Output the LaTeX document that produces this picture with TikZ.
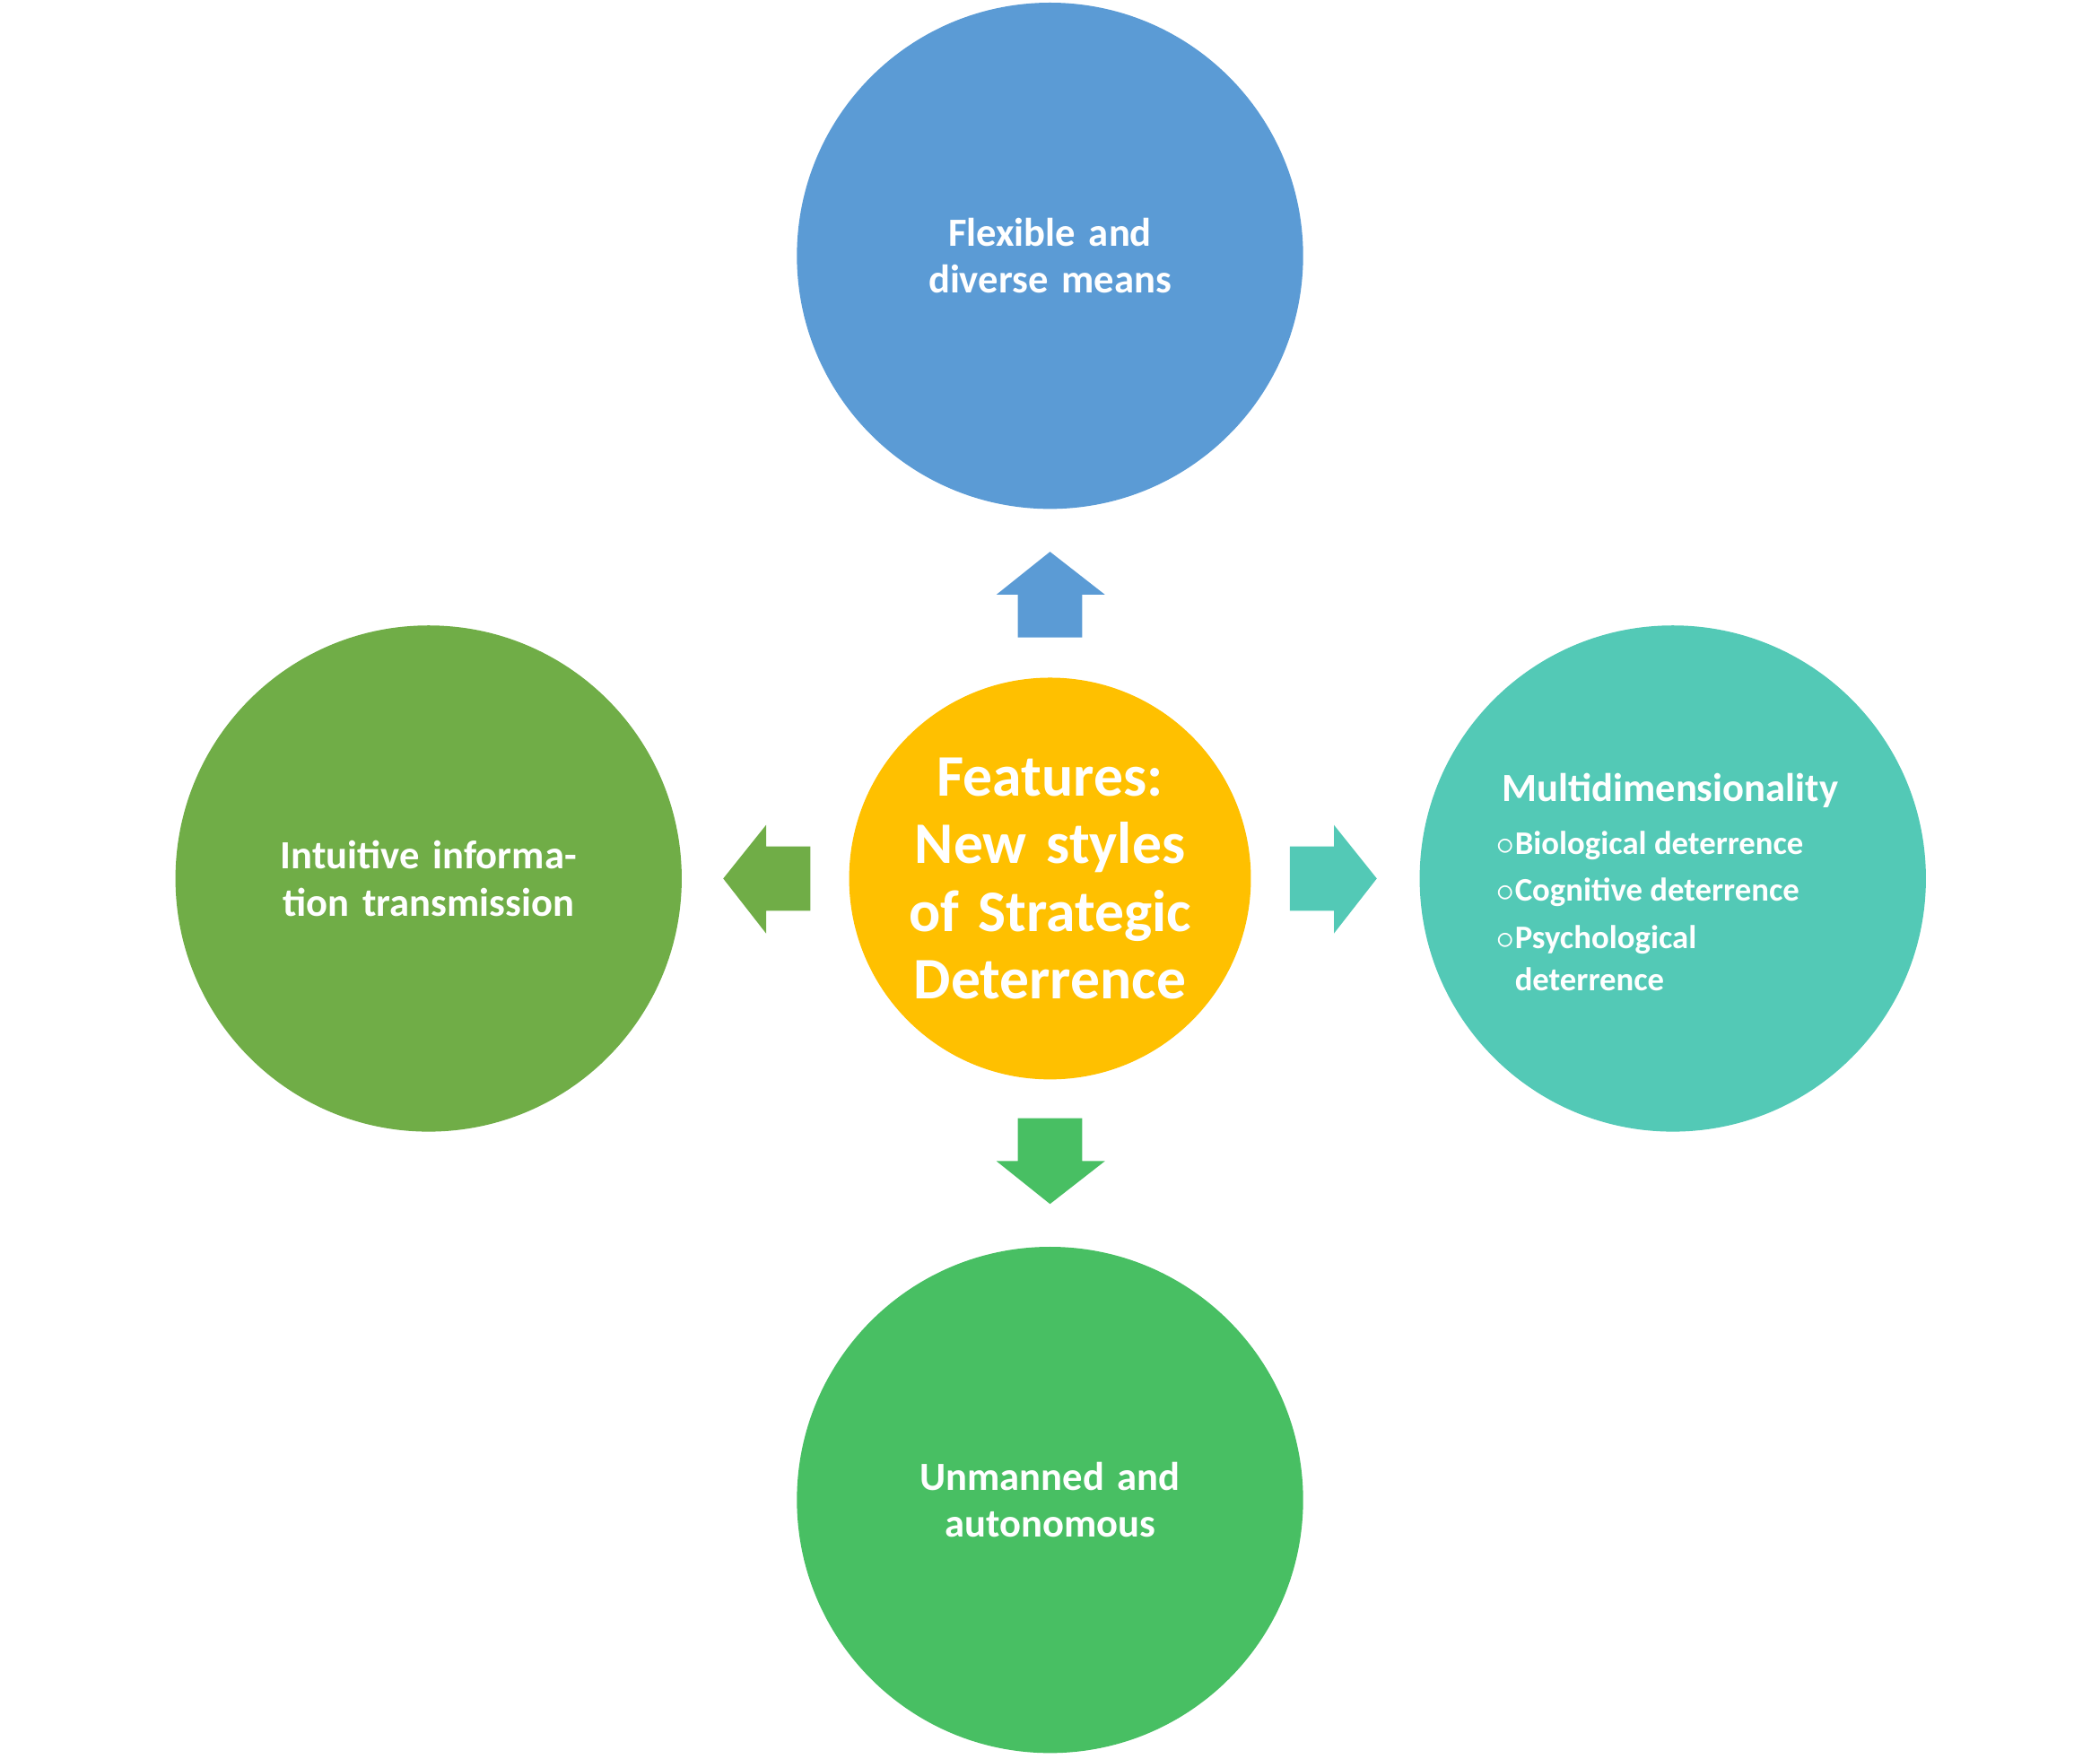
\documentclass[tikz,border=0pt]{standalone}
\usepackage{fontspec}
\setmainfont{Carlito}
\definecolor{cblue}{HTML}{5B9BD5}
\definecolor{cgreen}{HTML}{70AD47}
\definecolor{cteal}{HTML}{53C9B6}
\definecolor{cgreen2}{HTML}{48BF63}
\definecolor{cgold}{HTML}{FFC000}
\begin{document}
\begin{tikzpicture}[x=1cm,y=-1cm,
  circ/.style={circle,minimum size=3.78cm,inner sep=0pt,text=white,font=\bfseries\fontsize{8.5}{10}\selectfont,align=center,text width=2.6cm}]
\useasboundingbox (0,0) rectangle (15.68,13.13);
\node[circ,fill=cgold,minimum size=3.0cm,font=\bfseries\fontsize{12.5}{14.4}\selectfont,text width=2.3cm] (c) at (7.84,6.56) {Features: New styles of Strategic Deterrence};
\node[circ,fill=cblue] (t) at (7.84,1.91) {Flexible and diverse means\\[1.6cm]};
\node[circ,fill=cgreen] (l) at (3.20,6.56) {Intuitive information transmission};
\node[circ,fill=cteal] (r) at (12.49,6.56) {};
\node[circ,fill=cgreen2] (b) at (7.84,11.20) {Unmanned and autonomous\\[0.05cm]};
\node[text=white,font=\bfseries\fontsize{8.5}{10}\selectfont] (rt) at (12.47,5.90) {Multidimensionality};
\node[text=white,anchor=north west,align=left,font=\bfseries\fontsize{7}{9}\selectfont,inner sep=0pt] (rl) at (11.16,6.20)
 {$\circ$Biological deterrence\\[1pt]$\circ$Cognitive deterrence\\[1pt]$\circ$Psychological\\\hphantom{$\circ$}deterrence};
% arrows
\fill[cblue] (7.60,4.76) -- (7.60,4.44) -- (7.44,4.44) -- (7.84,4.12) -- (8.25,4.44) -- (8.08,4.44) -- (8.08,4.76) -- cycle;
\fill[cgreen2] (7.60,8.35) -- (7.60,8.67) -- (7.44,8.67) -- (7.84,8.99) -- (8.25,8.67) -- (8.08,8.67) -- (8.08,8.35) -- cycle;
\fill[cteal] (9.63,6.32) -- (9.96,6.32) -- (9.96,6.16) -- (10.28,6.56) -- (9.96,6.97) -- (9.96,6.80) -- (9.63,6.80) -- cycle;
\fill[cgreen] (6.05,6.32) -- (5.72,6.32) -- (5.72,6.16) -- (5.40,6.56) -- (5.72,6.97) -- (5.72,6.80) -- (6.05,6.80) -- cycle;
\end{tikzpicture}
\end{document}
